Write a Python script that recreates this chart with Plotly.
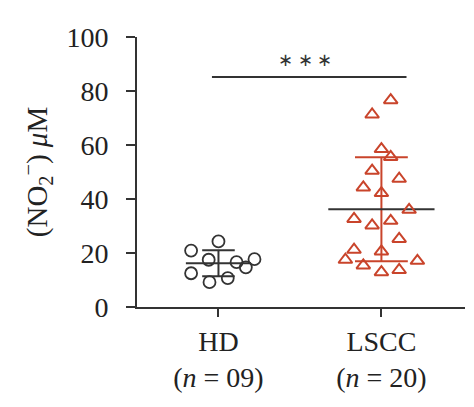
import plotly.graph_objects as go

categories = ["HD", "LSCC"]
tick_labels = ["HD<br>(<i>n</i> = 09)", "LSCC<br>(<i>n</i> = 20)"]

hd_values = [20.9, 24.3, 17.5, 12.5, 9.2, 10.7, 16.6, 14.7, 17.7]
hd_offsets = [-0.168, 0.0, -0.06, -0.168, -0.055, 0.057, 0.111, 0.168, 0.221]

lscc_values = [76.6, 71.3, 58.5, 55.6, 50.5, 47.5, 44.3, 42.2, 36.0, 32.6,
               30.2, 31.9, 25.2, 21.2, 20.6, 17.5, 15.4, 17.1, 12.9, 13.7]
lscc_offsets = [0.057, -0.057, 0.0, 0.057, -0.057, 0.109, -0.111, 0.0, 0.17, -0.168,
                -0.057, 0.057, 0.109, -0.168, 0.0, -0.221, -0.111, 0.221, 0.0, 0.109]

means = [16.2, 36.2]
sds = [4.8, 19.3]

sig_y = 85.2
sig_label = "∗ ∗ ∗"

RED = "#C9442B"
DARK = "#333333"
TEXT = "#222222"
FONT = "Liberation Serif"

fig = go.Figure()

mean_hw = [0.2, 0.326]
cap_hw = [0.1, 0.162]
bar_colors = [DARK, RED]

# SD error bars (drawn under markers)
for i, (m, s) in enumerate(zip(means, sds)):
    col = bar_colors[i]
    fig.add_trace(go.Scatter(
        x=[i, i, None, i - cap_hw[i], i + cap_hw[i], None, i - cap_hw[i], i + cap_hw[i]],
        y=[m - s, m + s, None, m + s, m + s, None, m - s, m - s],
        mode="lines", line=dict(color=col, width=2), hoverinfo="skip", showlegend=False))

# means
for i, m in enumerate(means):
    fig.add_trace(go.Scatter(
        x=[i - mean_hw[i], i + mean_hw[i]], y=[m, m],
        mode="lines", line=dict(color=DARK, width=2), hoverinfo="skip", showlegend=False))

fig.add_trace(go.Scatter(
    x=[0 + o for o in hd_offsets], y=hd_values, mode="markers",
    marker=dict(symbol="circle-open", size=12, color=DARK, line=dict(width=1.8, color=DARK)),
    showlegend=False))

fig.add_trace(go.Scatter(
    x=[1 + o for o in lscc_offsets], y=lscc_values, mode="markers",
    marker=dict(symbol="triangle-up-open", size=12, color=RED, line=dict(width=2, color=RED)),
    showlegend=False))

# significance bracket
fig.add_trace(go.Scatter(
    x=[-0.04, 1.154], y=[sig_y, sig_y], mode="lines",
    line=dict(color=DARK, width=2), hoverinfo="skip", showlegend=False))
fig.add_annotation(x=0.53, y=sig_y, text=sig_label, showarrow=False,
                   yanchor="bottom", yshift=5,
                   font=dict(family=FONT, size=18, color=DARK))

fig.update_layout(
    width=474, height=407,
    margin=dict(l=129, r=17, t=29, b=108),
    plot_bgcolor="white", paper_bgcolor="white",
    font=dict(family=FONT, size=28, color=TEXT),
    xaxis=dict(
        range=[-0.5, 1.513], tickvals=[0, 1], ticktext=tick_labels,
        showline=True, linecolor=DARK, linewidth=2,
        ticks="outside", ticklen=8, tickwidth=2, tickcolor=DARK,
        showgrid=False, zeroline=False,
        tickfont=dict(family=FONT, size=28, color=TEXT),
    ),
    yaxis=dict(
        range=[0, 100], tickvals=[0, 20, 40, 60, 80, 100],
        showline=True, linecolor=DARK, linewidth=2,
        ticks="outside", ticklen=9, tickwidth=2, tickcolor=DARK,
        ticklabelstandoff=12,
        showgrid=False, zeroline=False,
        tickfont=dict(family=FONT, size=28, color=TEXT),
        title=dict(text="(NO<sub>2</sub><sup>−</sup>) <i>μ</i>M",
                   font=dict(family=FONT, size=29, color=TEXT), standoff=10),
    ),
)

fig.write_html("out.html")
